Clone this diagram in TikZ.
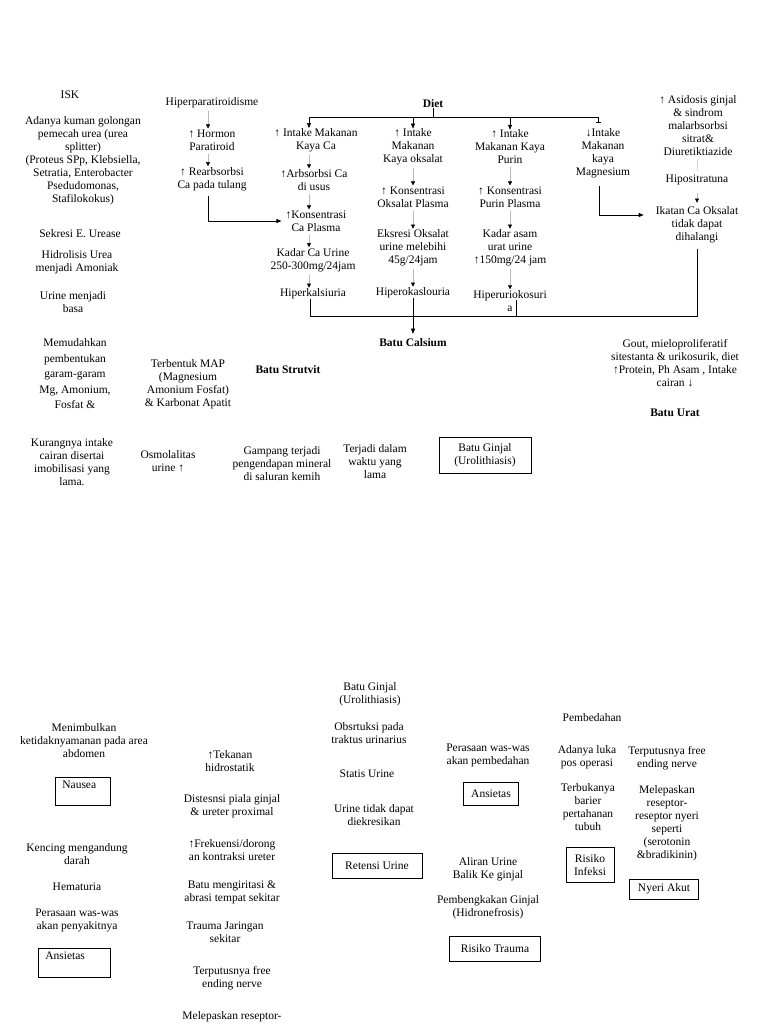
\documentclass[tikz,border=0pt]{standalone}
\usepackage{fontspec}
\setmainfont{Liberation Serif}
\usetikzlibrary{arrows.meta}

\begin{document}
\begin{tikzpicture}[
    x=1pt, y=-1pt,
    font=\fontsize{11.5}{13}\selectfont,
    txt/.style={align=center, inner sep=0pt},
    head/.style={txt, font=\fontsize{11.5}{13}\selectfont\bfseries},
    box/.style={txt, draw, line width=0.7pt},
    tlbox/.style={box, anchor=north west, align=left, inner xsep=7pt, inner ysep=3pt, text height=8pt},
    arrow/.style={-{Triangle[length=4pt, width=4pt, color=black]}, draw=gray!55, line width=0.5pt, shorten <=3pt, shorten >=1pt},
    link/.style={line width=0.8pt},
    linkarrow/.style={link, -{Triangle[length=5pt, width=4pt]}}
]
    \fill[white] (0,0) rectangle (768,1024);

    % Batu Strutvit column
    \node[txt] (isk) at (70,95) {ISK};
    \node[txt] (kuman) at (83,161) {Adanya kuman golongan\\pemecah urea (urea\\splitter)\\(Proteus SPp, Klebsiella,\\Setratia, Enterobacter\\Psedudomonas,\\Stafilokokus)};
    \node[txt] (urease) at (80,234) {Sekresi E. Urease};
    \node[txt] (hidrolisis) at (77,262) {Hidrolisis Urea\\menjadi Amoniak};
    \node[txt] (basa) at (73,302) {Urine menjadi\\basa};
    \node[txt, font=\fontsize{11.5}{15.5}\selectfont] (garam) at (75,374) {Memudahkan\\pembentukan\\garam-garam\\Mg, Amonium,\\Fosfat \&};
    \node[txt] (map) at (188,384) {Terbentuk MAP\\(Magnesium\\Amonium Fosfat)\\\& Karbonat Apatit};
    \node[head] (strutvit) at (288,370) {Batu Strutvit};

    % Hiperparatiroidisme
    \coordinate (colp) at (208,0);
    \node[txt] (hpt) at (212,103) {Hiperparatiroidisme};
    \node[txt] (hormon) at (212,140) {↑ Hormon\\Paratiroid};
    \node[txt] (rearb) at (212,179) {↑ Rearbsorbsi\\Ca pada tulang};

    % Diet columns
    \node[head] (diet) at (433,104) {Diet};
    \coordinate (dietbar) at (0,117);
    \coordinate (cola) at (309,0);
    \coordinate (cold) at (598,0);

    \node[txt] (kayaca) at (316,140) {↑ Intake Makanan\\Kaya Ca};
    \node[txt] (arbs) at (314,180) {↑Arbsorbsi Ca\\di usus};
    \node[txt] (konsca) at (316,221) {↑Konsentrasi\\Ca Plasma};
    \node[txt] (kadarca) at (313,260) {Kadar Ca Urine\\250-300mg/24jam};
    \node[txt] (hkal) at (313,294) {Hiperkalsiuria};

    \node[txt] (oks) at (413,147) {↑ Intake\\Makanan\\Kaya oksalat};
    \node[txt] (konsoks) at (413,197) {↑ Konsentrasi\\Oksalat Plasma};
    \node[txt] (eksresi) at (413,248) {Eksresi Oksalat\\urine melebihi\\45g/24jam};
    \node[txt] (hoks) at (413,293) {Hiperokaslouria};

    \node[txt] (purin) at (510,147) {↑ Intake\\Makanan Kaya\\Purin};
    \node[txt] (konspur) at (510,197) {↑ Konsentrasi\\Purin Plasma};
    \node[txt] (asam) at (510,248) {Kadar asam\\urat urine\\↑150mg/24 jam};
    \node[txt] (hurik) at (510,301) {Hiperuriokosuri\\a};

    \node[txt] (magn) at (603,153) {↓Intake\\Makanan\\kaya\\Magnesium};

    % Sitrat
    \node[txt] (asid) at (698,126) {↑ Asidosis ginjal\\\& sindrom\\malarbsorbsi\\sitrat\&\\Diuretiktiazide};
    \node[txt] (hipos) at (697,180) {Hipositratuna};
    \node[txt] (ikatan) at (697,225) {Ikatan Ca Oksalat\\tidak dapat\\dihalangi};

    % Batu
    \node[head] (bcal) at (413,343) {Batu Calsium};
    \node[txt] (gout) at (675,363) {Gout, mieloproliferatif\\sitestanta \& urikosurik, diet\\↑Protein, Ph Asam , Intake\\cairan ↓};
    \node[head] (burat) at (675,413) {Batu Urat};

    \node[txt] (kurang) at (72,462) {Kurangnya intake\\cairan disertai\\imobilisasi yang\\lama.};
    \node[txt] (osmo) at (168,461) {Osmolalitas\\urine ↑};
    \node[txt] (gampang) at (282,464) {Gampang terjadi\\pengendapan mineral\\di saluran kemih};
    \node[txt] (lama) at (375,462) {Terjadi dalam\\waktu yang\\lama};
    \node[box, minimum width=92pt, minimum height=36pt] (bg1) at (485,455) {Batu Ginjal\\(Urolithiasis)};

    % Connections
    \draw[arrow] (hpt.south -| colp) -- (hormon.north -| colp);
    \draw[arrow] (hormon.south -| colp) -- (rearb.north -| colp);
    \draw[linkarrow] ([xshift=-4pt,yshift=-5pt]rearb.south) |- ([xshift=-4pt]konsca.west);

    \draw[link] (diet.south) -- (diet.south |- dietbar);
    \draw[link] (cola |- dietbar) -- (cold |- dietbar);
    \draw[linkarrow, line width=0.5pt] (cola |- dietbar) -- (kayaca.north -| cola);
    \draw[linkarrow, line width=0.5pt] (oks.north |- dietbar) -- (oks.north);
    \draw[linkarrow, line width=0.5pt] (purin.north |- dietbar) -- (purin.north);
    \draw[link, line width=0.5pt, -{Bar[width=5pt]}] (cold |- dietbar) -- ([yshift=6pt]magn.north -| cold);

    \draw[arrow] (kayaca.south -| cola) -- (arbs.north -| cola);
    \draw[arrow] (arbs.south -| cola) -- (konsca.north -| cola);
    \draw[arrow] (konsca.south -| cola) -- (kadarca.north -| cola);
    \draw[arrow] (kadarca.south -| cola) -- (hkal.north -| cola);

    \draw[arrow] (oks) -- (konsoks);
    \draw[arrow] (konsoks) -- (eksresi);
    \draw[arrow] (eksresi) -- (hoks);

    \draw[arrow] (purin) -- (konspur);
    \draw[arrow] (konspur) -- (asam);
    \draw[arrow] (asam) -- (hurik);

    \draw[linkarrow] ([xshift=-4pt,yshift=-8pt]magn.south) |- ([xshift=-12pt,yshift=10pt]ikatan.west);
    \draw[arrow, -, shorten <=4pt, shorten >=4pt] (asid) -- (hipos);
    \draw[arrow, shorten <=8pt, shorten >=4pt] (hipos) -- (ikatan);

    \coordinate (calbar) at (0,316);
    \draw[link] ([xshift=-3pt]hkal.south) -- ([xshift=-3pt]hkal.south |- calbar) -- (ikatan.south |- calbar) -- ([yshift=-6pt]ikatan.south);
    \draw[link] ([xshift=6pt,yshift=12pt]hurik.south) -- ([xshift=6pt]hurik.south |- calbar);
    \draw[linkarrow, line width=0.5pt, shorten >=5pt] (hoks) -- (bcal);

    % Lower page
    \node[txt] (abdomen) at (84,741) {Menimbulkan\\ketidaknyamanan pada area\\abdomen};
    \node[tlbox, text width=41pt, text depth=14pt] (nausea) at (55,777) {Nausea};
    \node[txt] (darah) at (77,854) {Kencing mengandung\\darah};
    \node[txt] (hematuria) at (77,887) {Hematuria};
    \node[txt] (wassakit) at (77,920) {Perasaan was-was\\akan penyakitnya};
    \node[tlbox, text width=58pt, text depth=15pt] (ans1) at (38,948) {Ansietas};

    \node[txt] (tekanan) at (230,761) {↑Tekanan\\hidrostatik};
    \node[txt] (distensi) at (232,806) {Distesnsi piala ginjal\\\& ureter proximal};
    \node[txt] (frek) at (232,850) {↑Frekuensi/dorong\\an kontraksi ureter};
    \node[txt] (iritasi) at (232,892) {Batu mengiritasi \&\\abrasi tempat sekitar};
    \node[txt] (jaringan) at (225,932) {Trauma Jaringan\\sekitar};
    \node[txt] (putus1) at (232,978) {Terputusnya free\\ending nerve};
    \node[txt] (lepas1) at (232,1017) {Melepaskan reseptor-};

    \node[txt] (bg2) at (370,694) {Batu Ginjal\\(Urolithiasis)};
    \node[txt] (obs) at (369,733) {Obsrtuksi pada\\traktus urinarius};
    \node[txt] (statis) at (367,774) {Statis Urine};
    \node[txt] (tidak) at (374,815) {Urine tidak dapat\\diekresikan};
    \node[box, minimum width=90pt, minimum height=25pt] (retensi) at (377,866) {Retensi Urine};

    \node[txt] (wasbedah) at (488,755) {Perasaan was-was\\akan pembedahan};
    \node[box, minimum width=55pt, minimum height=23pt] (ans2) at (491,794) {Ansietas};
    \node[txt] (aliran) at (488,869) {Aliran Urine\\Balik Ke ginjal};
    \node[txt] (bengkak) at (488,907) {Pembengkakan Ginjal\\(Hidronefrosis)};
    \node[box, minimum width=91pt, minimum height=25pt] (trauma) at (495,949) {Risiko Trauma};

    \node[txt] (bedah) at (592,718) {Pembedahan};
    \node[txt] (luka) at (587,757) {Adanya luka\\pos operasi};
    \node[txt] (barier) at (588,807) {Terbukanya\\barier\\pertahanan\\tubuh};
    \node[box, minimum width=48pt, minimum height=35pt] (infeksi) at (590,865) {Risiko\\Infeksi};
    \node[txt] (putus2) at (667,758) {Terputusnya free\\ending nerve};
    \node[txt] (lepas2) at (667,823) {Melepaskan\\reseptor-\\reseptor nyeri\\seperti\\(serotonin\\\&bradikinin)};
    \node[box, minimum width=69pt, minimum height=20pt] (nyeri) at (664,889) {Nyeri Akut};

\end{tikzpicture}
\end{document}
